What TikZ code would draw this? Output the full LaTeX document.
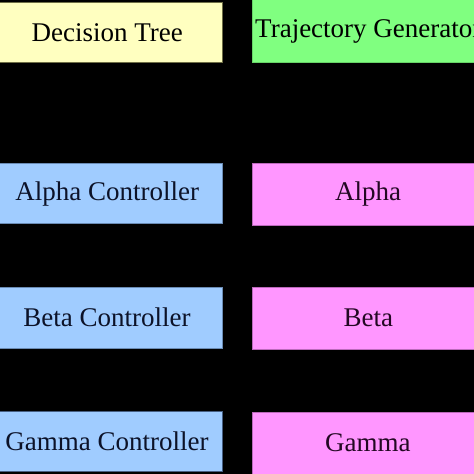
\documentclass[tikz,border=0pt]{standalone}
\usepackage{fontspec}
\setmainfont{Liberation Serif}
\definecolor{yel}{RGB}{255,255,192}
\definecolor{yelB}{RGB}{110,110,70}
\definecolor{grn}{RGB}{128,255,128}
\definecolor{grnB}{RGB}{80,170,80}
\definecolor{blu}{RGB}{160,204,255}
\definecolor{bluB}{RGB}{70,95,130}
\definecolor{pnk}{RGB}{255,150,255}
\definecolor{pnkB}{RGB}{120,60,120}
\definecolor{txtB}{RGB}{12,18,40}
\definecolor{txtP}{RGB}{35,8,35}
\begin{document}
\begin{tikzpicture}[x=1pt,y=-1pt,
  boxL/.style={rectangle, inner sep=0pt, anchor=north west, minimum width=229.7pt, line width=1pt},
  boxR/.style={rectangle, inner sep=0pt, anchor=north west, minimum width=232pt, line width=1pt},
  lbl/.style={inner sep=0pt, anchor=base, font=\fontsize{27}{30}\selectfont}]
\useasboundingbox (0,0) rectangle (474,474);
\fill[black] (0,0) rectangle (474,474);
\clip (0,0) rectangle (474,474);
% left column
\node (dt) [boxL, fill=yel, draw=yelB, minimum height=60.3pt] at (-8,2) {};
\node (ac) [boxL, fill=blu, draw=bluB!60!blu, minimum height=60.3pt] at (-8,162.7) {};
\node (bc) [boxL, fill=blu, draw=bluB!60!blu, minimum height=61pt] at (-8,286.7) {};
\node (gc) [boxL, fill=blu, draw=bluB, minimum height=60pt] at (-8,410.7) {};
% right column
\node (tg) [boxR, fill=grn, draw=grnB!50!grn, minimum height=64pt] at (252.4,-2) {};
\node (al) [boxR, fill=pnk, draw=pnkB!50!pnk, minimum height=62pt] at (252.4,163.3) {};
\node (be) [boxR, fill=pnk, draw=pnkB!50!pnk, minimum height=62pt] at (252.4,287.3) {};
\node (ga) [boxR, fill=pnk, draw=pnkB!50!pnk, minimum height=64pt] at (252.4,411.7) {};
% labels
\node (dtt) [lbl, text=black] at (107.3,41.8) {Decision Tree};
\node (act) [lbl, text=txtB] at (107.3,200.7) {Alpha Controller};
\node (bct) [lbl, text=txtB] at (107,326.5) {Beta Controller};
\node (gct) [lbl, text=txtB] at (107,450.6) {Gamma Controller};
\node (tgt) [lbl, text=black] at (368.3,37.5) {Trajectory Generator};
\node (alt) [lbl, text=txtP] at (368.2,200.9) {Alpha};
\node (bet) [lbl, text=txtP] at (368.3,326.6) {Beta};
\node (gat) [lbl, text=txtP] at (367.8,451.5) {Gamma};
\end{tikzpicture}
\end{document}
